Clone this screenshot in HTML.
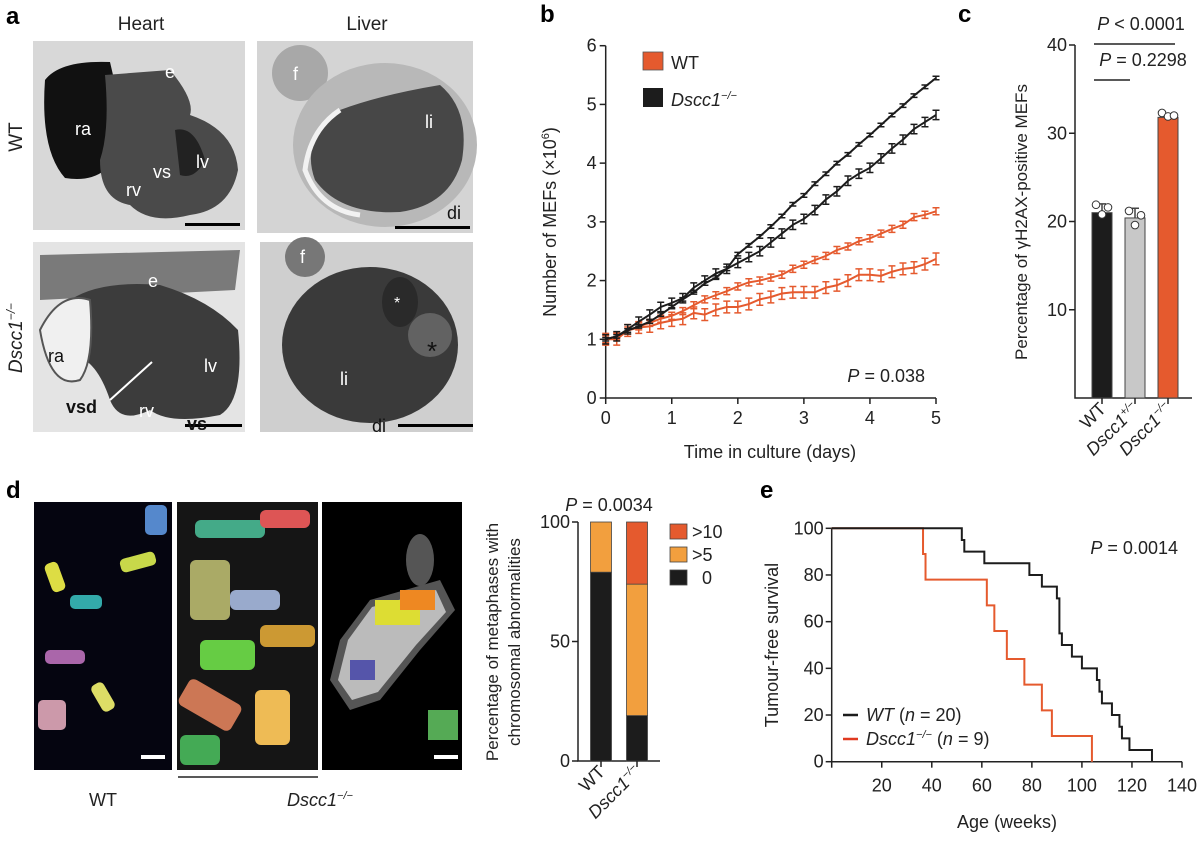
<!DOCTYPE html>
<html><head><meta charset="utf-8"><style>
html,body{margin:0;padding:0;background:#fff;}
svg{display:block;font-family:"Liberation Sans",sans-serif;}
</style></head><body>
<svg id="fig" width="1200" height="845" viewBox="0 0 1200 845">
<!-- Panel a -->
<g>
<text x="6" y="24" font-size="24" font-weight="bold">a</text>
<text x="141" y="30" font-size="19" text-anchor="middle" fill="#222">Heart</text>
<text x="367" y="30" font-size="19" text-anchor="middle" fill="#222">Liver</text>
<text transform="translate(22,137) rotate(-90)" font-size="19" text-anchor="middle" fill="#222">WT</text>
<text transform="translate(22,338) rotate(-90)" font-size="19" text-anchor="middle" font-style="italic" fill="#222">Dscc1<tspan font-size="12" dy="-7">−/−</tspan></text>
<g>
<rect x="33" y="41" width="212" height="189" fill="#d8d8d8"/>
<path d="M45 80 Q60 60 110 62 Q120 100 115 135 Q100 150 105 170 Q90 182 65 178 Q40 150 45 80Z" fill="#111"/>
<path d="M105 75 L170 70 Q195 100 190 115 Q235 130 238 170 Q230 210 190 215 Q150 225 130 205 Q100 200 100 160 Q110 130 105 75Z" fill="#4a4a4a"/>
<path d="M175 130 Q195 125 205 160 Q195 180 180 175Z" fill="#222"/>
<rect x="185" y="223" width="55" height="3" fill="#000"/>
<text x="75" y="135" font-size="18" fill="#fff">ra</text>
<text x="126" y="196" font-size="18" fill="#fff">rv</text>
<text x="153" y="178" font-size="18" fill="#fff">vs</text>
<text x="196" y="168" font-size="18" fill="#fff">lv</text>
<text x="165" y="78" font-size="18" fill="#fff">e</text>
</g>
<g>
<rect x="257" y="41" width="216" height="192" fill="#d4d4d4"/>
<circle cx="300" cy="73" r="28" fill="#a8a8a8"/>
<ellipse cx="385" cy="145" rx="92" ry="82" fill="#b8b8b8"/>
<path d="M340 110 Q380 95 440 85 Q470 110 462 160 Q450 205 400 212 Q340 215 315 180 Q300 140 340 110Z" fill="#474747"/>
<path d="M340 110 Q310 130 305 170 Q320 210 360 215" fill="none" stroke="#f2f2f2" stroke-width="5"/>
<rect x="395" y="226" width="75" height="3" fill="#000"/>
<text x="293" y="80" font-size="18" fill="#fff">f</text>
<text x="425" y="128" font-size="18" fill="#fff">li</text>
<text x="447" y="219" font-size="18" fill="#111">di</text>
</g>
<g>
<rect x="33" y="242" width="212" height="190" fill="#e4e4e4"/>
<path d="M40 255 L240 250 L235 290 L40 300Z" fill="#7a7a7a"/>
<path d="M70 300 Q100 280 160 285 Q210 300 238 330 Q245 400 220 415 Q170 425 150 410 Q120 425 110 400 Q100 370 85 360 Q70 330 70 300Z" fill="#3c3c3c"/>
<path d="M40 330 Q60 290 90 300 Q95 360 80 380 Q50 390 40 330Z" fill="#f0f0f0" stroke="#555" stroke-width="2"/>
<rect x="185" y="424" width="57" height="3" fill="#000"/>
<text x="48" y="362" font-size="18" fill="#111">ra</text>
<text x="66" y="413" font-size="18" font-weight="bold" fill="#111">vsd</text>
<text x="139" y="417" font-size="18" fill="#fff">rv</text>
<text x="187" y="430" font-size="18" font-weight="bold" fill="#111">vs</text>
<text x="204" y="372" font-size="18" fill="#fff">lv</text>
<text x="148" y="287" font-size="18" fill="#fff">e</text>
<line x1="110" y1="400" x2="152" y2="362" stroke="#fff" stroke-width="2"/>
</g>
<g>
<rect x="260" y="242" width="213" height="190" fill="#cfcfcf"/>
<circle cx="305" cy="257" r="20" fill="#777"/>
<ellipse cx="370" cy="345" rx="88" ry="78" fill="#3a3a3a"/>
<ellipse cx="400" cy="302" rx="18" ry="25" fill="#2a2a2a"/>
<circle cx="430" cy="335" r="22" fill="#8a8a8a" opacity="0.5"/>
<rect x="398" y="424" width="75" height="3" fill="#000"/>
<text x="300" y="263" font-size="18" fill="#fff">f</text>
<text x="340" y="385" font-size="18" fill="#fff">li</text>
<text x="372" y="432" font-size="18" fill="#111">di</text>
<text x="427" y="360" font-size="26" fill="#111">*</text>
<text x="394" y="308" font-size="16" fill="#fff">*</text>
</g>
</g>

<!-- Panel b -->
<g id="pb">
<text x="540" y="22" font-size="24" font-weight="bold">b</text>
<text transform="translate(556,222) rotate(-90)" font-size="18" text-anchor="middle" fill="#222">Number of MEFs (×10<tspan font-size="11" dy="-7">6</tspan><tspan dy="7">)</tspan></text>
<text x="770" y="458" font-size="18" text-anchor="middle" fill="#222">Time in culture (days)</text>
<rect x="643" y="52" width="20" height="18" fill="#e55a2e" stroke="#555" stroke-width="0.8"/>
<text x="671" y="69" font-size="18" fill="#222">WT</text>
<rect x="643" y="88" width="20" height="19" fill="#1c1c1c"/>
<text x="671" y="106" font-size="18" font-style="italic" fill="#222">Dscc1<tspan font-size="11" dy="-7">−/−</tspan></text>
<text x="925" y="382" font-size="18" text-anchor="end" fill="#222"><tspan font-style="italic">P</tspan> = 0.038</text>
</g>

<!-- Panel c -->
<g id="pc">
<text x="958" y="22" font-size="24" font-weight="bold">c</text>
<text transform="translate(1027,222) rotate(-90)" font-size="17" text-anchor="middle" fill="#222">Percentage of γH2AX-positive MEFs</text>
<text x="1141" y="30" font-size="18" text-anchor="middle" fill="#222"><tspan font-style="italic">P</tspan> &lt; 0.0001</text>
<line x1="1094" y1="44" x2="1175" y2="44" stroke="#222" stroke-width="1.5"/>
<text x="1143" y="66" font-size="18" text-anchor="middle" fill="#222"><tspan font-style="italic">P</tspan> = 0.2298</text>
<line x1="1094" y1="80" x2="1130" y2="80" stroke="#222" stroke-width="1.5"/>
</g>

<!-- Panel d -->
<g id="pd">
<text x="6" y="498" font-size="24" font-weight="bold">d</text>
<g>
<rect x="34" y="502" width="138" height="268" fill="#050510"/>
<rect x="120" y="555" width="36" height="14" rx="5" fill="#c8d84a" transform="rotate(-15 138 562)"/>
<rect x="70" y="595" width="32" height="14" rx="5" fill="#3aa"/>
<rect x="40" y="570" width="30" height="14" rx="5" fill="#dd4" transform="rotate(70 55 577)"/>
<rect x="45" y="650" width="40" height="14" rx="5" fill="#a6a"/>
<rect x="88" y="690" width="30" height="14" rx="5" fill="#dd6" transform="rotate(60 103 697)"/>
<rect x="38" y="700" width="28" height="30" rx="5" fill="#c9a"/>
<rect x="145" y="505" width="22" height="30" rx="5" fill="#58c"/>
<rect x="141" y="755" width="24" height="4" fill="#fff"/>
</g>
<g>
<rect x="177" y="502" width="141" height="268" fill="#151515"/>
<rect x="195" y="520" width="70" height="18" rx="6" fill="#4a8" />
<rect x="260" y="510" width="50" height="18" rx="6" fill="#d55"/>
<rect x="190" y="560" width="40" height="60" rx="6" fill="#aa6"/>
<rect x="230" y="590" width="50" height="20" rx="6" fill="#9ac"/>
<rect x="260" y="625" width="55" height="22" rx="6" fill="#c93"/>
<rect x="200" y="640" width="55" height="30" rx="6" fill="#6c4"/>
<rect x="180" y="690" width="60" height="30" rx="6" fill="#c75" transform="rotate(30 210 705)"/>
<rect x="255" y="690" width="35" height="55" rx="6" fill="#eb5"/>
<rect x="180" y="735" width="40" height="30" rx="6" fill="#4a5"/>
</g>
<g>
<rect x="322" y="502" width="140" height="268" fill="#000"/>
<ellipse cx="420" cy="560" rx="14" ry="26" fill="#555"/>
<path d="M340 640 L370 600 L440 580 L455 610 L420 650 L380 700 L350 710 L330 680Z" fill="#555"/>
<path d="M348 640 L372 607 L436 590 L446 612 L416 645 L378 692 L352 700 L338 680Z" fill="#bbb"/>
<rect x="375" y="600" width="45" height="25" fill="#dd3"/>
<rect x="400" y="590" width="35" height="20" fill="#e82"/>
<rect x="350" y="660" width="25" height="20" fill="#55a"/>
<rect x="428" y="710" width="30" height="30" fill="#5a5"/>
<rect x="434" y="755" width="24" height="4" fill="#fff"/>
</g>
<line x1="178" y1="777" x2="318" y2="777" stroke="#222" stroke-width="1.5"/>
<text x="103" y="806" font-size="18" text-anchor="middle" fill="#222">WT</text>
<text x="320" y="806" font-size="18" text-anchor="middle" font-style="italic" fill="#222">Dscc1<tspan font-size="11" dy="-7">−/−</tspan></text>
<text transform="translate(498,642) rotate(-90)" font-size="17" text-anchor="middle" fill="#222">Percentage of metaphases with</text>
<text transform="translate(520,642) rotate(-90)" font-size="17" text-anchor="middle" fill="#222">chromosomal abnormalities</text>
<text x="609" y="511" font-size="18" text-anchor="middle" fill="#222"><tspan font-style="italic">P</tspan> = 0.0034</text>
</g>

<!-- Panel e -->
<g id="pe">
<text x="760" y="498" font-size="24" font-weight="bold">e</text>
<text transform="translate(778,645) rotate(-90)" font-size="18" text-anchor="middle" fill="#222">Tumour-free survival</text>
<text x="1007" y="828" font-size="18" text-anchor="middle" fill="#222">Age (weeks)</text>
<text x="1178" y="554" font-size="18" text-anchor="end" fill="#222"><tspan font-style="italic">P</tspan> = 0.0014</text>
<line x1="843" y1="715" x2="858" y2="715" stroke="#1c1c1c" stroke-width="2.5"/>
<text x="866" y="721" font-size="18" fill="#222"><tspan font-style="italic">WT</tspan> (<tspan font-style="italic">n</tspan> = 20)</text>
<line x1="843" y1="739" x2="858" y2="739" stroke="#e03a20" stroke-width="2.5"/>
<text x="866" y="745" font-size="18" fill="#222"><tspan font-style="italic">Dscc1</tspan><tspan font-size="11" dy="-7" font-style="italic">−/−</tspan><tspan dy="7"> (</tspan><tspan font-style="italic">n</tspan> = 9)</text>
</g>
</svg>
<script>
// ---- Panel b data ----
const bDays = [0,0.167,0.333,0.5,0.667,0.833,1,1.167,1.333,1.5,1.667,1.833,2,2.167,2.333,2.5,2.667,2.833,3,3.167,3.333,3.5,3.667,3.833,4,4.167,4.333,4.5,4.667,4.833,5];
const koA = [1.0,1.05,1.15,1.22,1.3,1.42,1.55,1.68,1.8,1.95,2.05,2.2,2.45,2.6,2.75,2.92,3.1,3.3,3.45,3.65,3.82,4.0,4.15,4.32,4.48,4.65,4.82,4.98,5.15,5.3,5.45];
const koB = [1.0,1.05,1.17,1.3,1.42,1.55,1.62,1.7,1.88,2.0,2.12,2.2,2.3,2.4,2.5,2.65,2.8,2.95,3.05,3.2,3.38,3.52,3.7,3.82,3.92,4.08,4.25,4.4,4.58,4.7,4.82];
const wtA = [1.0,1.05,1.15,1.22,1.28,1.35,1.4,1.48,1.58,1.68,1.75,1.82,1.9,1.97,2.0,2.05,2.1,2.2,2.27,2.35,2.42,2.52,2.58,2.67,2.72,2.8,2.88,2.95,3.08,3.12,3.18];
const wtB = [1.0,1.0,1.15,1.2,1.22,1.28,1.32,1.35,1.45,1.42,1.5,1.55,1.55,1.6,1.68,1.72,1.78,1.8,1.8,1.8,1.88,1.92,2.0,2.1,2.1,2.08,2.15,2.2,2.22,2.28,2.37];
const bErr = [0.03,0.08,0.06,0.1];
const bYTicks = [0,1,2,3,4,5,6];
const bXTicks = [0,1,2,3,4,5];
// ---- Panel c data ----
const cGroups = ["WT","Dscc1+/-","Dscc1-/-"];
const cMeans = [21.0,20.4,31.8];
const cErrs = [1.0,1.1,0.3];
const cDots = [[21.9,20.8,21.6],[21.2,19.6,20.7],[32.3,31.9,32.0]];
const cYTicks = [10,20,30,40];
// ---- Panel d data ----
const dGroups = ["WT","Dscc1-/-"];
const dZero = [79,19];
const dGt5 = [21,55];
const dGt10 = [0,26];
const dYTicks = [0,50,100];
// ---- Panel e data ----
const wtTimes = [0,52,53,61,79,84,90,91,92,96,100,106,107,108,112,115,116,119,128];
const wtSurv = [100,95,90,85,80,75,70,55,50,45,40,35,30,25,20,15,10,5,0];
const koTimes = [0,36.5,37.5,62,65,70,77,84,88,104];
const koSurv = [100,89,78,67,56,44,33,22,11,0];
const eYTicks = [0,20,40,60,80,100];
const eXTicks = [20,40,60,80,100,120,140];

const NS='http://www.w3.org/2000/svg';
function mk(tag, attrs, parent){const e=document.createElementNS(NS,tag);for(const k in attrs)e.setAttribute(k,attrs[k]);parent.appendChild(e);return e;}
const ORANGE='#e55a2e', BLACK='#1c1c1c';

// Panel b
(function(){
 const g=document.getElementById('pb');
 const x=v=>605.7+v*(936-605.7)/5, y=v=>398-v*(398-45.7)/6;
 const ax=mk('path',{d:`M${x(0)} ${y(6)} L${x(0)} ${y(0)} L${x(5)} ${y(0)}`,fill:'none',stroke:'#222','stroke-width':1.5},g);
 
 
 bYTicks.forEach(t=>{mk('line',{x1:x(0)-6,x2:x(0),y1:y(t),y2:y(t),stroke:'#222','stroke-width':1.5},g);
  const tx=mk('text',{x:x(0)-9,y:y(t)+6,'font-size':18,'text-anchor':'end',fill:'#222'},g);tx.textContent=t;
  
  });
 bXTicks.forEach(t=>{mk('line',{x1:x(t),x2:x(t),y1:y(0),y2:y(0)+6,stroke:'#222','stroke-width':1.5},g);
  const tx=mk('text',{x:x(t),y:y(0)+26,'font-size':18,'text-anchor':'middle',fill:'#222'},g);tx.textContent=t;
  
  });
 const series=[[wtB,ORANGE,bErr[3],'wt-line-2'],[wtA,ORANGE,bErr[2],'wt-line-1'],[koB,BLACK,bErr[1],'ko-line-2'],[koA,BLACK,bErr[0],'ko-line-1']];
 series.forEach(([vals,col,er,name])=>{
  const sg=mk('g',{},g);
  
  
  mk('polyline',{points:vals.map((v,i)=>x(bDays[i])+','+y(v)).join(' '),fill:'none',stroke:col,'stroke-width':2},sg);
  vals.forEach((v,i)=>{const cx=x(bDays[i]);
   mk('path',{d:`M${cx} ${y(v+er)} V${y(v-er)} M${cx-3.5} ${y(v+er)} H${cx+3.5} M${cx-3.5} ${y(v-er)} H${cx+3.5}`,stroke:col,'stroke-width':1.5,fill:'none'},sg);});
 });
})();

// Panel c
(function(){
 const g=document.getElementById('pc');
 const y=v=>398-v*(398-45)/40; const x0=1075; const cx=[1102,1135,1168]; const cols=[BLACK,'#c8c8c8',ORANGE];
 const ax=mk('path',{d:`M${x0} ${y(40)} V${y(0)} H1192`,fill:'none',stroke:'#222','stroke-width':1.5},g);
 
 
 cYTicks.forEach(t=>{mk('line',{x1:x0-6,x2:x0,y1:y(t),y2:y(t),stroke:'#222','stroke-width':1.5},g);
  const tx=mk('text',{x:x0-8,y:y(t)+6,'font-size':18,'text-anchor':'end',fill:'#222'},g);tx.textContent=t;
  
  });
 const labels=[['WT',''],['Dscc1','+/−'],['Dscc1','−/−']];
 cMeans.forEach((m,i)=>{
  const r=mk('rect',{x:cx[i]-10,y:y(m),width:20,height:y(0)-y(m),fill:cols[i],stroke:'#444','stroke-width':1},g);
  
  
  const e=cErrs[i];
  mk('path',{d:`M${cx[i]} ${y(m)} V${y(m+e)} M${cx[i]-4} ${y(m+e)} H${cx[i]+4}`,stroke:'#444','stroke-width':1.5,fill:'none'},g);
  cDots[i].forEach((d,j)=>{const c=mk('circle',{cx:cx[i]-6+j*6,cy:y(d),r:3.8,fill:'#fff',stroke:'#333','stroke-width':1},g);
   
   });
  mk('line',{x1:cx[i],x2:cx[i],y1:y(0),y2:y(0)+6,stroke:'#222','stroke-width':1.5},g);
  const t=mk('text',{transform:`translate(${cx[i]+5},${y(0)+12}) rotate(-45)`,'font-size':18,'text-anchor':'end',fill:'#222','font-style':i?'italic':'normal'},g);
  t.textContent=cGroups[i].replace(/[+-]\/[+-]$/,'');
  if(i){const s=mk('tspan',{'font-size':11,dy:-7},t);s.textContent=labels[i][1];}
  
  
 });
})();

// Panel d
(function(){
 const g=document.getElementById('pd');
 const y=v=>761-v*(761-522)/100; const x0=578; const cx=[601,637];
 const ax=mk('path',{d:`M${x0} ${y(100)} V${y(0)} H660`,fill:'none',stroke:'#222','stroke-width':1.5},g);
 
 
 dYTicks.forEach(t=>{mk('line',{x1:x0-6,x2:x0,y1:y(t),y2:y(t),stroke:'#222','stroke-width':1.5},g);
  const tx=mk('text',{x:x0-8,y:y(t)+6,'font-size':18,'text-anchor':'end',fill:'#222'},g);tx.textContent=t;
  
  });
 dGroups.forEach((gname,i)=>{
  const segs=[[dZero[i],BLACK],[dGt5[i],'#f29f3e'],[dGt10[i],ORANGE]]; let base=0;
  segs.forEach(([v,c],k)=>{if(v>0){const r=mk('rect',{x:cx[i]-10.5,y:y(base+v),width:21,height:y(base)-y(base+v),fill:c,stroke:'#444','stroke-width':0.8},g);
   
   } base+=v;});
  mk('line',{x1:cx[i],x2:cx[i],y1:y(0),y2:y(0)+6,stroke:'#222','stroke-width':1.5},g);
  const t=mk('text',{transform:`translate(${cx[i]+5},${y(0)+12}) rotate(-45)`,'font-size':18,'text-anchor':'end',fill:'#222','font-style':i?'italic':'normal'},g);
  t.textContent=i?'Dscc1':'WT'; if(i){const s=mk('tspan',{'font-size':11,dy:-7},t);s.textContent='−/−';}
  
  
 });
 [['>10',ORANGE],['>5','#f29f3e'],['0',BLACK]].forEach(([lab,c],k)=>{
  const r=mk('rect',{x:670,y:524+k*23,width:17,height:15,fill:c,stroke:'#444','stroke-width':0.8},g);
  
  
  const t=mk('text',{x:lab==='0'?702:692,y:538+k*23,'font-size':18,fill:'#222'},g);t.textContent=lab;
  
  
 });
})();

// Panel e
(function(){
 const g=document.getElementById('pe');
 const x=v=>831.7+v*(1182-831.7)/140, y=v=>761.7-v*(761.7-528.3)/100;
 const ax=mk('path',{d:`M${x(0)} ${y(100)} V${y(0)} H${x(140)}`,fill:'none',stroke:'#222','stroke-width':1.5},g);
 
 
 eYTicks.forEach(t=>{mk('line',{x1:x(0)-6,x2:x(0),y1:y(t),y2:y(t),stroke:'#222','stroke-width':1.5},g);
  const tx=mk('text',{x:x(0)-8,y:y(t)+6,'font-size':18,'text-anchor':'end',fill:'#222'},g);tx.textContent=t;
  
  });
 mk('line',{x1:x(0),x2:x(0),y1:y(0),y2:y(0)+6,stroke:'#222','stroke-width':1.5},g);
 eXTicks.forEach(t=>{mk('line',{x1:x(t),x2:x(t),y1:y(0),y2:y(0)+6,stroke:'#222','stroke-width':1.5},g);
  const tx=mk('text',{x:x(t),y:y(0)+30,'font-size':18,'text-anchor':'middle',fill:'#222'},g);tx.textContent=t;
  
  });
 function step(times,surv){let d=`M${x(times[0])} ${y(surv[0])}`;for(let i=1;i<times.length;i++){d+=` H${x(times[i])} V${y(surv[i])}`;}return d;}
 const k=mk('path',{d:step(koTimes,koSurv),fill:'none',stroke:'#e55a2e','stroke-width':2},g);
 
 
 const w=mk('path',{d:step(wtTimes,wtSurv),fill:'none',stroke:BLACK,'stroke-width':2},g);
 
 
})();
</script>
</body></html>
